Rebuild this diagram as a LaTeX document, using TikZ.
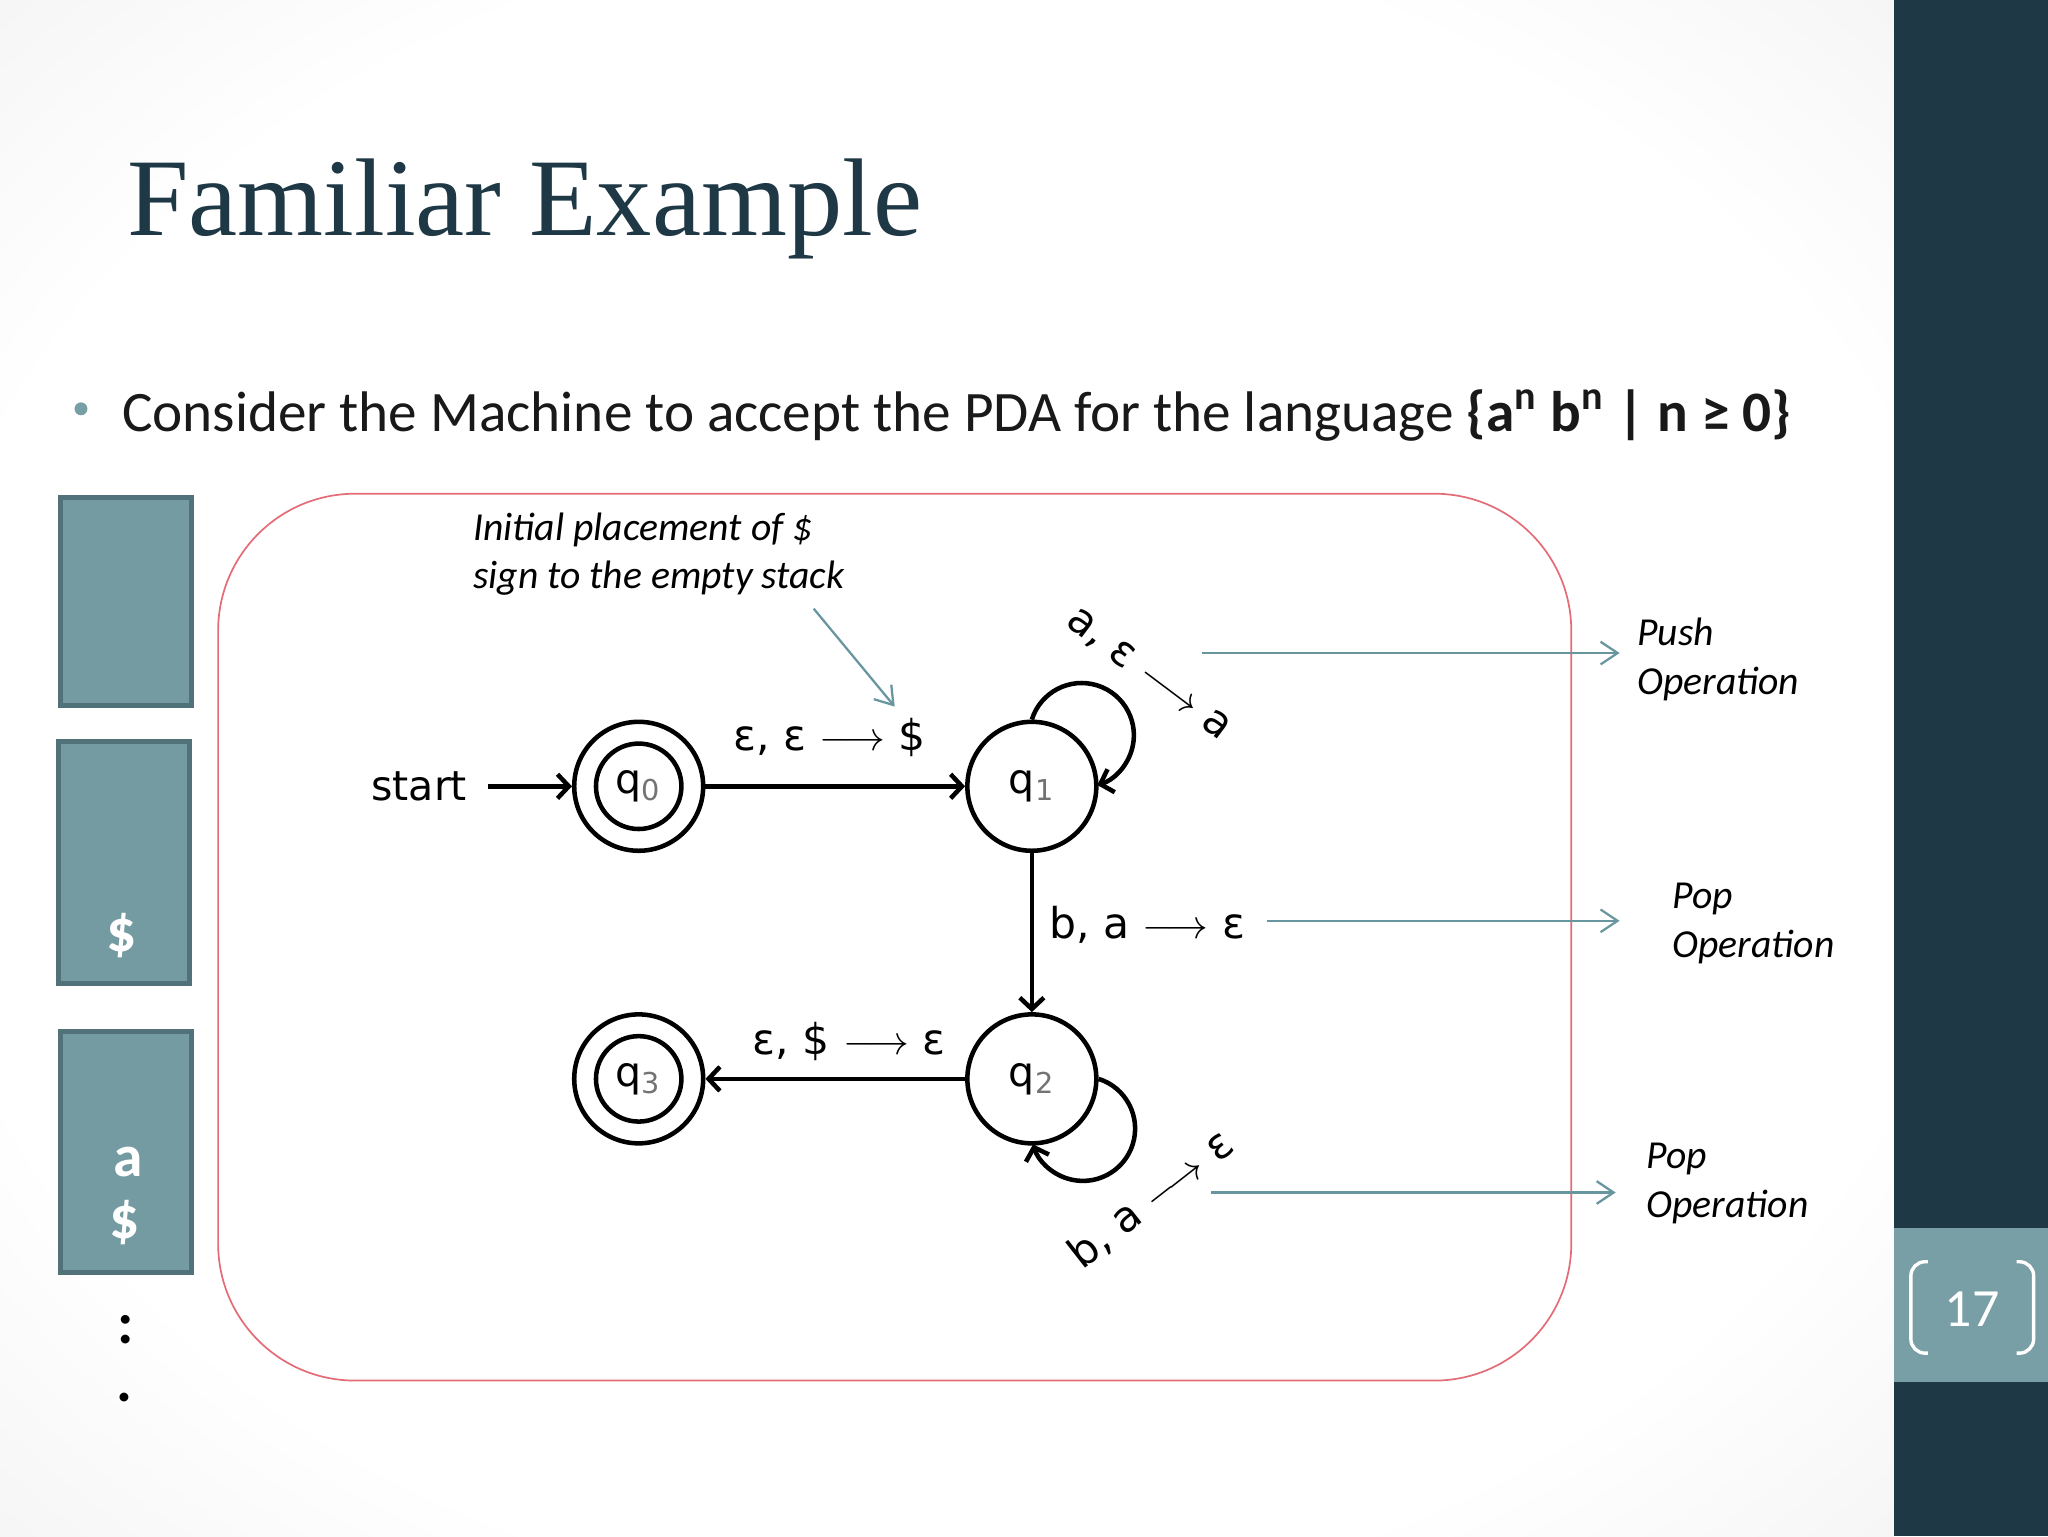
\documentclass[tikz,border=0pt]{standalone}
\usepackage{fontspec}
\usepackage{tikz}
\usetikzlibrary{arrows.meta}

\setmainfont{Carlito}
\newfontfamily\titlefont{Liberation Serif}
\newfontfamily\figfont{DejaVu Sans}

\definecolor{panel}{RGB}{31,56,69}
\definecolor{pagebox}{RGB}{120,158,166}
\definecolor{stackfill}{RGB}{117,155,162}
\definecolor{stackline}{RGB}{82,114,122}
\definecolor{framered}{RGB}{228,108,118}
\definecolor{notecol}{RGB}{104,150,158}

\pgfdeclareradialshading{slidebg}{\pgfpoint{0bp}{0bp}}{color(0bp)=(white); color(27bp)=(white); color(50bp)=(black!10); color(72bp)=(black!16)}

\tikzset{
	state/.style={circle,draw,line width=1.6pt,minimum size=1.6cm,inner sep=0pt,font=\figfont\fontsize{14.5}{16}\selectfont},
	trans/.style={line width=1.6pt,-{Straight Barb[length=4pt,width=8.5pt]}},
	translabel/.style={inner sep=0pt,font=\figfont\fontsize{15}{17}\selectfont},
	notearrow/.style={draw=notecol,line width=0.8pt,-{Straight Barb[length=6pt,width=8pt]}},
	notetext/.style={inner sep=0pt,anchor=north west,align=left,font=\itshape\fontsize{14}{17}\selectfont},
	stackbox/.style={draw=stackline,fill=stackfill,line width=1.8pt,minimum width=1.62cm},
	stacktext/.style={inner sep=0pt,text=white,font=\bfseries\fontsize{21}{24}\selectfont},
}

\begin{document}
\begin{tikzpicture}[x=0.0162cm,y=-0.0162cm]

	\useasboundingbox (0,0) rectangle (1568,1176);
	\shade[shading=slidebg] (0,0) rectangle (1450,1176);
	\fill[panel] (1450,0) rectangle (1568,1176);
	\fill[pagebox] (1450,940) rectangle (1568,1058);
	\draw[white,line width=1.2pt,rounded corners=5pt] (1476,966) -- (1463,966) -- (1463,1036) -- (1476,1036);
	\draw[white,line width=1.2pt,rounded corners=5pt] (1544,966) -- (1557,966) -- (1557,1036) -- (1544,1036);
	\node[text=white,font=\fontsize{19}{22}\selectfont] (page) at (1510,1002) {17};

	\node[anchor=base west,inner sep=0pt,text=panel,font=\titlefont\fontsize{39}{44}\selectfont] (title) at (97,180) {Familiar Example};
	\fill[pagebox] (62,313) circle (0.08cm);
	\node[anchor=base west,inner sep=0pt,text=black!90,font=\fontsize{20.2}{24}\selectfont] (bullet) at (93,330) {Consider the Machine to accept the PDA for the language \textbf{\{a\textsuperscript{n} b\textsuperscript{n} | n ≥ 0\}}};

	\draw[framered,line width=0.6pt,rounded corners=1.7cm] (167,378) rectangle (1203,1057);

	\node[stackbox,minimum height=2.58cm] (s1) at (96.5,460.5) {};
	\node[stackbox,minimum height=3.0cm] (s2) at (95,660.5) {};
	\node[stackbox,minimum height=2.98cm] (s3) at (96.5,882) {};
	\node[stacktext] (s2top) at (93,716) {\$};
	\node[stacktext] (s3top) at (98,890) {a};
	\node[stacktext] (s3bot) at (95,936) {\$};
	\node[stacktext,text=black] (more1) at (96,1018) {:};
	\node[stacktext,text=black] (more2) at (95,1070) {.};

	\node[state] (q0) at (489,602) {q\textsubscript{\color{black!55}0}};\draw[line width=1.6pt] (q0) circle (0.53cm);
	\node[state] (q1) at (790,602) {q\textsubscript{\color{black!55}1}};
	\node[state] (q2) at (790,826) {q\textsubscript{\color{black!55}2}};
	\node[state] (q3) at (489,826) {q\textsubscript{\color{black!55}3}};\draw[line width=1.6pt] (q3) circle (0.53cm);
	\node[translabel,inner xsep=7pt,font=\figfont\fontsize{14.5}{16}\selectfont] (start) at (321,602) {start};

	\draw[trans] (start) -- (q0);
	\draw[trans] (q0) -- (q1);
	\draw[trans] (q1) -- (q2);
	\draw[trans] (q2) -- (q3);
	\draw[trans] (q1.90) arc[start angle=162.5,end angle=-72.5,radius=0.648cm];
	\draw[trans] (q2.0) arc[start angle=72.5,end angle=-162.5,radius=0.648cm];

	\node[translabel] (l01) at (635,565) {ε, ε \(\longrightarrow\) \$};
	\node[translabel,anchor=west] (l12) at (803,708) {b, a \(\longrightarrow\) ε};
	\node[translabel] (l23) at (650,797) {ε, \$ \(\longrightarrow\) ε};
	\node[translabel,rotate=-37] (l11) at (879,517) {a, ε \(\longrightarrow\) a};
	\node[translabel,rotate=38] (l22) at (881,918) {b, a \(\longrightarrow\) ε};

	\node[notetext] (init) at (362,392) {Initial placement of \$\\sign to the empty stack};
	\node[notetext] (push) at (1253,473) {Push\\Operation};
	\node[notetext] (pop1) at (1280,676) {Pop\\Operation};
	\node[notetext] (pop2) at (1260,875) {Pop\\Operation};

	\coordinate (initfrom) at (623,466);
	\coordinate (initto) at (685,541);
	\coordinate (pushfrom) at (920,500);
	\coordinate (pushto) at (1240,500);
	\coordinate (popafrom) at (970,705);
	\coordinate (popato) at (1240,705);
	\coordinate (popbfrom) at (927,913);
	\coordinate (popbto) at (1237,913);

	\draw[notearrow] (initfrom) -- (initto);
	\draw[notearrow] (pushfrom) -- (pushto);
	\draw[notearrow] (popafrom) -- (popato);
	\draw[notearrow] (popbfrom) -- (popbto);

\end{tikzpicture}
\end{document}
